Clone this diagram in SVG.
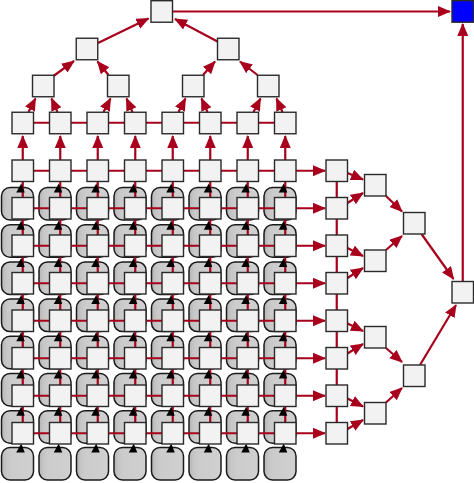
<svg xmlns="http://www.w3.org/2000/svg" xmlns:xlink="http://www.w3.org/1999/xlink" width="474" height="483" viewBox="0 0 474 483">
<style>
.sq{fill:#f2f2f2;stroke:#2a2a2a;stroke-width:1.4}
.blue{fill:#0000ff;stroke:#2a2a2a;stroke-width:1.4}
.cell{fill:url(#gg);stroke:#1a1a1a;stroke-width:1.5}
.ln{fill:none;stroke:#a8001c;stroke-width:2.2}
.ar{fill:none;stroke:#a8001c;stroke-width:2.2;marker-end:url(#ah)}
.tip{fill:#000}
</style>
<defs>
<linearGradient id="gg" x1="0" y1="0" x2="1" y2="0">
<stop offset="0" stop-color="#b4b4b4"/>
<stop offset="0.14" stop-color="#c6c6c6"/>
<stop offset="0.3" stop-color="#cccccc"/>
<stop offset="1" stop-color="#d0d0d0"/>
</linearGradient>
<marker id="ah" markerUnits="userSpaceOnUse" markerWidth="14" markerHeight="12" refX="12" refY="5.5" orient="auto">
<path d="M0,0 L13,5.5 L0,11 z" fill="#a8001c"/>
</marker>
<rect id="sq" class="sq" width="21.5" height="21.5"/>
<rect id="cell" class="cell" width="32" height="32.5" rx="8.5" ry="8.5"/>
<polygon id="tip" class="tip" points="-1.5,-4 -6.5,5 2,5"/>
</defs>

<g id="cells">
<use href="#cell" x="1.5" y="187.5"/><use href="#cell" x="39" y="187.5"/><use href="#cell" x="76.5" y="187.5"/><use href="#cell" x="114" y="187.5"/><use href="#cell" x="151.5" y="187.5"/><use href="#cell" x="189" y="187.5"/><use href="#cell" x="226.5" y="187.5"/><use href="#cell" x="264" y="187.5"/>
<use href="#cell" x="1.5" y="224.7"/><use href="#cell" x="39" y="224.7"/><use href="#cell" x="76.5" y="224.7"/><use href="#cell" x="114" y="224.7"/><use href="#cell" x="151.5" y="224.7"/><use href="#cell" x="189" y="224.7"/><use href="#cell" x="226.5" y="224.7"/><use href="#cell" x="264" y="224.7"/>
<use href="#cell" x="1.5" y="261.9"/><use href="#cell" x="39" y="261.9"/><use href="#cell" x="76.5" y="261.9"/><use href="#cell" x="114" y="261.9"/><use href="#cell" x="151.5" y="261.9"/><use href="#cell" x="189" y="261.9"/><use href="#cell" x="226.5" y="261.9"/><use href="#cell" x="264" y="261.9"/>
<use href="#cell" x="1.5" y="299.1"/><use href="#cell" x="39" y="299.1"/><use href="#cell" x="76.5" y="299.1"/><use href="#cell" x="114" y="299.1"/><use href="#cell" x="151.5" y="299.1"/><use href="#cell" x="189" y="299.1"/><use href="#cell" x="226.5" y="299.1"/><use href="#cell" x="264" y="299.1"/>
<use href="#cell" x="1.5" y="336.3"/><use href="#cell" x="39" y="336.3"/><use href="#cell" x="76.5" y="336.3"/><use href="#cell" x="114" y="336.3"/><use href="#cell" x="151.5" y="336.3"/><use href="#cell" x="189" y="336.3"/><use href="#cell" x="226.5" y="336.3"/><use href="#cell" x="264" y="336.3"/>
<use href="#cell" x="1.5" y="373.5"/><use href="#cell" x="39" y="373.5"/><use href="#cell" x="76.5" y="373.5"/><use href="#cell" x="114" y="373.5"/><use href="#cell" x="151.5" y="373.5"/><use href="#cell" x="189" y="373.5"/><use href="#cell" x="226.5" y="373.5"/><use href="#cell" x="264" y="373.5"/>
<use href="#cell" x="1.5" y="410.7"/><use href="#cell" x="39" y="410.7"/><use href="#cell" x="76.5" y="410.7"/><use href="#cell" x="114" y="410.7"/><use href="#cell" x="151.5" y="410.7"/><use href="#cell" x="189" y="410.7"/><use href="#cell" x="226.5" y="410.7"/><use href="#cell" x="264" y="410.7"/>
<use href="#cell" x="1.5" y="447.5"/><use href="#cell" x="39" y="447.5"/><use href="#cell" x="76.5" y="447.5"/><use href="#cell" x="114" y="447.5"/><use href="#cell" x="151.5" y="447.5"/><use href="#cell" x="189" y="447.5"/><use href="#cell" x="226.5" y="447.5"/><use href="#cell" x="264" y="447.5"/>
</g>

<g id="connectors">
<path class="ln" d="M22.75,122.75 H285.25"/>
<path class="ln" d="M22.75,170.75 V433.25 M60.25,170.75 V433.25 M97.75,170.75 V433.25 M135.25,170.75 V433.25 M172.75,170.75 V433.25 M210.25,170.75 V433.25 M247.75,170.75 V433.25 M285.25,170.75 V433.25 M336.75,170.75 V433.25"/>
<path class="ar" d="M22.75,170.75 H325"/>
<path class="ar" d="M22.75,208.25 H325"/>
<path class="ar" d="M22.75,245.75 H325"/>
<path class="ar" d="M22.75,283.25 H325"/>
<path class="ar" d="M22.75,320.75 H325"/>
<path class="ar" d="M22.75,358.25 H325"/>
<path class="ar" d="M22.75,395.75 H325"/>
<path class="ar" d="M22.75,433.25 H325"/>
<path class="ar" d="M22.75,160 V136"/>
<path class="ar" d="M60.25,160 V136"/>
<path class="ar" d="M97.75,160 V136"/>
<path class="ar" d="M135.25,160 V136"/>
<path class="ar" d="M172.75,160 V136"/>
<path class="ar" d="M210.25,160 V136"/>
<path class="ar" d="M247.75,160 V136"/>
<path class="ar" d="M285.25,160 V136"/>
<path class="ar" d="M28.5,112 L35.5,98.5"/>
<path class="ar" d="M57.5,112 L51.5,98.5"/>
<path class="ar" d="M103.5,112 L110.5,98.5"/>
<path class="ar" d="M132.5,112 L126.5,98.5"/>
<path class="ar" d="M178.5,112 L185.5,98.5"/>
<path class="ar" d="M207.5,112 L201.5,98.5"/>
<path class="ar" d="M253.5,112 L260.5,98.5"/>
<path class="ar" d="M282.5,112 L276.5,98.5"/>
<path class="ar" d="M53.5,76 L74,61"/>
<path class="ar" d="M108.5,75 L97.5,61.5"/>
<path class="ar" d="M203,75 L215,61.5"/>
<path class="ar" d="M257.5,75 L240,61.5"/>
<path class="ar" d="M98,43 L148.5,18.5"/>
<path class="ar" d="M217.5,41.5 L175,19"/>
<path class="ar" d="M172.5,11.5 H450"/>
<path class="ar" d="M347.5,173 L363,179.5"/>
<path class="ar" d="M347.5,203 L363,193"/>
<path class="ar" d="M347.5,248 L363,256"/>
<path class="ar" d="M347.5,278 L363,268"/>
<path class="ar" d="M347.5,323.5 L363,331"/>
<path class="ar" d="M347.5,353.5 L363,344"/>
<path class="ar" d="M347.5,398.5 L363,406.5"/>
<path class="ar" d="M347.5,429 L363,420"/>
<path class="ar" d="M386,196 L402,211.5"/>
<path class="ar" d="M386,250 L402,236"/>
<path class="ar" d="M386,348 L402,362"/>
<path class="ar" d="M386,402.5 L402,388"/>
<path class="ar" d="M421.5,234 L453.5,279"/>
<path class="ar" d="M420,365 L456,305"/>
<path class="ar" d="M462.75,281.5 V24"/>
</g>

<g id="tips">
<use href="#tip" x="22.75" y="187.5"/><use href="#tip" x="60.25" y="187.5"/><use href="#tip" x="97.75" y="187.5"/><use href="#tip" x="135.25" y="187.5"/><use href="#tip" x="172.75" y="187.5"/><use href="#tip" x="210.25" y="187.5"/><use href="#tip" x="247.75" y="187.5"/><use href="#tip" x="285.25" y="187.5"/>
<use href="#tip" x="22.75" y="224.7"/><use href="#tip" x="60.25" y="224.7"/><use href="#tip" x="97.75" y="224.7"/><use href="#tip" x="135.25" y="224.7"/><use href="#tip" x="172.75" y="224.7"/><use href="#tip" x="210.25" y="224.7"/><use href="#tip" x="247.75" y="224.7"/><use href="#tip" x="285.25" y="224.7"/>
<use href="#tip" x="22.75" y="261.9"/><use href="#tip" x="60.25" y="261.9"/><use href="#tip" x="97.75" y="261.9"/><use href="#tip" x="135.25" y="261.9"/><use href="#tip" x="172.75" y="261.9"/><use href="#tip" x="210.25" y="261.9"/><use href="#tip" x="247.75" y="261.9"/><use href="#tip" x="285.25" y="261.9"/>
<use href="#tip" x="22.75" y="299.1"/><use href="#tip" x="60.25" y="299.1"/><use href="#tip" x="97.75" y="299.1"/><use href="#tip" x="135.25" y="299.1"/><use href="#tip" x="172.75" y="299.1"/><use href="#tip" x="210.25" y="299.1"/><use href="#tip" x="247.75" y="299.1"/><use href="#tip" x="285.25" y="299.1"/>
<use href="#tip" x="22.75" y="336.3"/><use href="#tip" x="60.25" y="336.3"/><use href="#tip" x="97.75" y="336.3"/><use href="#tip" x="135.25" y="336.3"/><use href="#tip" x="172.75" y="336.3"/><use href="#tip" x="210.25" y="336.3"/><use href="#tip" x="247.75" y="336.3"/><use href="#tip" x="285.25" y="336.3"/>
<use href="#tip" x="22.75" y="373.5"/><use href="#tip" x="60.25" y="373.5"/><use href="#tip" x="97.75" y="373.5"/><use href="#tip" x="135.25" y="373.5"/><use href="#tip" x="172.75" y="373.5"/><use href="#tip" x="210.25" y="373.5"/><use href="#tip" x="247.75" y="373.5"/><use href="#tip" x="285.25" y="373.5"/>
<use href="#tip" x="22.75" y="410.7"/><use href="#tip" x="60.25" y="410.7"/><use href="#tip" x="97.75" y="410.7"/><use href="#tip" x="135.25" y="410.7"/><use href="#tip" x="172.75" y="410.7"/><use href="#tip" x="210.25" y="410.7"/><use href="#tip" x="247.75" y="410.7"/><use href="#tip" x="285.25" y="410.7"/>
<use href="#tip" x="22.75" y="447.5"/><use href="#tip" x="60.25" y="447.5"/><use href="#tip" x="97.75" y="447.5"/><use href="#tip" x="135.25" y="447.5"/><use href="#tip" x="172.75" y="447.5"/><use href="#tip" x="210.25" y="447.5"/><use href="#tip" x="247.75" y="447.5"/><use href="#tip" x="285.25" y="447.5"/>
</g>

<g id="grid">
<g id="row0"><use href="#sq" x="12" y="160"/><use href="#sq" x="49.5" y="160"/><use href="#sq" x="87" y="160"/><use href="#sq" x="124.5" y="160"/><use href="#sq" x="162" y="160"/><use href="#sq" x="199.5" y="160"/><use href="#sq" x="237" y="160"/><use href="#sq" x="274.5" y="160"/></g>
<g id="row1"><use href="#sq" x="12" y="197.5"/><use href="#sq" x="49.5" y="197.5"/><use href="#sq" x="87" y="197.5"/><use href="#sq" x="124.5" y="197.5"/><use href="#sq" x="162" y="197.5"/><use href="#sq" x="199.5" y="197.5"/><use href="#sq" x="237" y="197.5"/><use href="#sq" x="274.5" y="197.5"/></g>
<g id="row2"><use href="#sq" x="12" y="235"/><use href="#sq" x="49.5" y="235"/><use href="#sq" x="87" y="235"/><use href="#sq" x="124.5" y="235"/><use href="#sq" x="162" y="235"/><use href="#sq" x="199.5" y="235"/><use href="#sq" x="237" y="235"/><use href="#sq" x="274.5" y="235"/></g>
<g id="row3"><use href="#sq" x="12" y="272.5"/><use href="#sq" x="49.5" y="272.5"/><use href="#sq" x="87" y="272.5"/><use href="#sq" x="124.5" y="272.5"/><use href="#sq" x="162" y="272.5"/><use href="#sq" x="199.5" y="272.5"/><use href="#sq" x="237" y="272.5"/><use href="#sq" x="274.5" y="272.5"/></g>
<g id="row4"><use href="#sq" x="12" y="310"/><use href="#sq" x="49.5" y="310"/><use href="#sq" x="87" y="310"/><use href="#sq" x="124.5" y="310"/><use href="#sq" x="162" y="310"/><use href="#sq" x="199.5" y="310"/><use href="#sq" x="237" y="310"/><use href="#sq" x="274.5" y="310"/></g>
<g id="row5"><use href="#sq" x="12" y="347.5"/><use href="#sq" x="49.5" y="347.5"/><use href="#sq" x="87" y="347.5"/><use href="#sq" x="124.5" y="347.5"/><use href="#sq" x="162" y="347.5"/><use href="#sq" x="199.5" y="347.5"/><use href="#sq" x="237" y="347.5"/><use href="#sq" x="274.5" y="347.5"/></g>
<g id="row6"><use href="#sq" x="12" y="385"/><use href="#sq" x="49.5" y="385"/><use href="#sq" x="87" y="385"/><use href="#sq" x="124.5" y="385"/><use href="#sq" x="162" y="385"/><use href="#sq" x="199.5" y="385"/><use href="#sq" x="237" y="385"/><use href="#sq" x="274.5" y="385"/></g>
<g id="row7"><use href="#sq" x="12" y="422.5"/><use href="#sq" x="49.5" y="422.5"/><use href="#sq" x="87" y="422.5"/><use href="#sq" x="124.5" y="422.5"/><use href="#sq" x="162" y="422.5"/><use href="#sq" x="199.5" y="422.5"/><use href="#sq" x="237" y="422.5"/><use href="#sq" x="274.5" y="422.5"/></g>
</g>

<g id="top-tree">
<g id="rowm1"><use href="#sq" x="12" y="112.25"/><use href="#sq" x="49.5" y="112.25"/><use href="#sq" x="87" y="112.25"/><use href="#sq" x="124.5" y="112.25"/><use href="#sq" x="162" y="112.25"/><use href="#sq" x="199.5" y="112.25"/><use href="#sq" x="237" y="112.25"/><use href="#sq" x="274.5" y="112.25"/></g>
<g id="l3a"><use href="#sq" x="32.5" y="75.25"/></g>
<g id="l3b"><use href="#sq" x="107.5" y="75.25"/></g>
<g id="l3c"><use href="#sq" x="182.5" y="75.25"/></g>
<g id="l3d"><use href="#sq" x="257.5" y="75.25"/></g>
<g id="l2a"><use href="#sq" x="76.25" y="38.25"/></g>
<g id="l2b"><use href="#sq" x="217.5" y="38.25"/></g>
<g id="top"><use href="#sq" x="151" y="0.7"/></g>
</g>

<g id="right-tree">
<g id="rcol"><use href="#sq" x="326" y="160"/><use href="#sq" x="326" y="197.5"/><use href="#sq" x="326" y="235"/><use href="#sq" x="326" y="272.5"/><use href="#sq" x="326" y="310"/><use href="#sq" x="326" y="347.5"/><use href="#sq" x="326" y="385"/><use href="#sq" x="326" y="422.5"/></g>
<g id="a1"><use href="#sq" x="364.5" y="174.5"/></g>
<g id="a2"><use href="#sq" x="364.5" y="250"/></g>
<g id="a3"><use href="#sq" x="364.5" y="326.5"/></g>
<g id="a4"><use href="#sq" x="364.5" y="402.5"/></g>
<g id="b1"><use href="#sq" x="403.5" y="212.5"/></g>
<g id="b2"><use href="#sq" x="403.5" y="365"/></g>
<g id="c"><use href="#sq" x="452" y="281.5"/></g>
</g>

<g id="result"><rect class="blue" x="452" y="0.7" width="21.5" height="21.5"/></g>
</svg>
